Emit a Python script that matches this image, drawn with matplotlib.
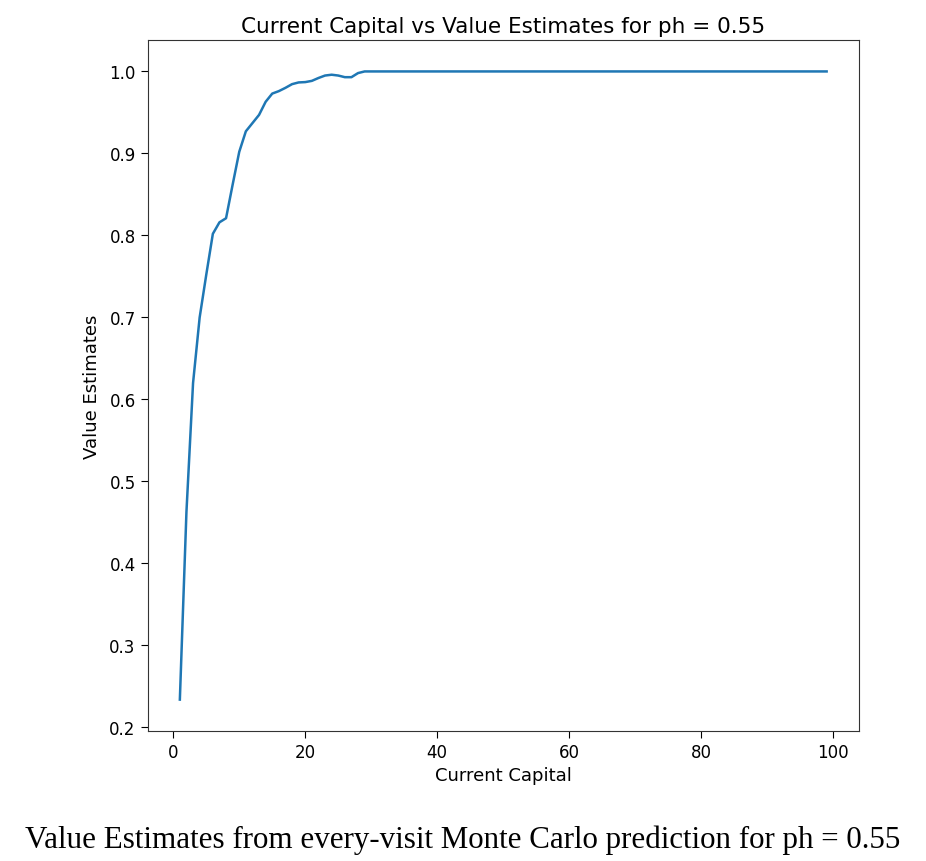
import matplotlib
matplotlib.use("Agg")
import matplotlib.pyplot as plt
import numpy as np

# Data
capital = list(range(1, 100))
head_values = [0.234, 0.463, 0.620, 0.700, 0.752, 0.802, 0.816, 0.821, 0.862, 0.902,
               0.927, 0.937, 0.947, 0.963, 0.973, 0.976, 0.980, 0.9845, 0.9866, 0.987,
               0.9885, 0.992, 0.995, 0.996, 0.995, 0.993, 0.993, 0.998, 1.0, 1.0]
values = head_values + [1.0] * (len(capital) - len(head_values))

title = "Current Capital vs Value Estimates for ph = 0.55"
xlabel = "Current Capital"
ylabel = "Value Estimates"
caption = "Value Estimates from every-visit Monte Carlo prediction for ph = 0.55"
xticks = [0, 20, 40, 60, 80, 100]
yticks = [0.2, 0.3, 0.4, 0.5, 0.6, 0.7, 0.8, 0.9, 1.0]

fig = plt.figure(figsize=(9.26, 8.62), dpi=100)
ax = fig.add_axes([0.1593, 0.1508, 0.7683, 0.8016])
ax.plot(capital, values, color="#1f77b4", linewidth=1.8)
ax.set_xticks(xticks)
ax.set_yticks(yticks)
ax.set_yticklabels([f"{t:.1f}" for t in yticks])
ax.tick_params(labelsize=12, length=5)
ax.set_title(title, fontsize=15.5, pad=6)
ax.set_xlabel(xlabel, fontsize=13, labelpad=4)
ax.set_ylabel(ylabel, fontsize=13, labelpad=6)
for s in ax.spines.values():
    s.set_color("#333333")

fig.text(0.5, 0.008, caption, ha="center", va="bottom",
         fontsize=22.3, family="Liberation Serif")

fig.savefig("out.png", dpi=100)
